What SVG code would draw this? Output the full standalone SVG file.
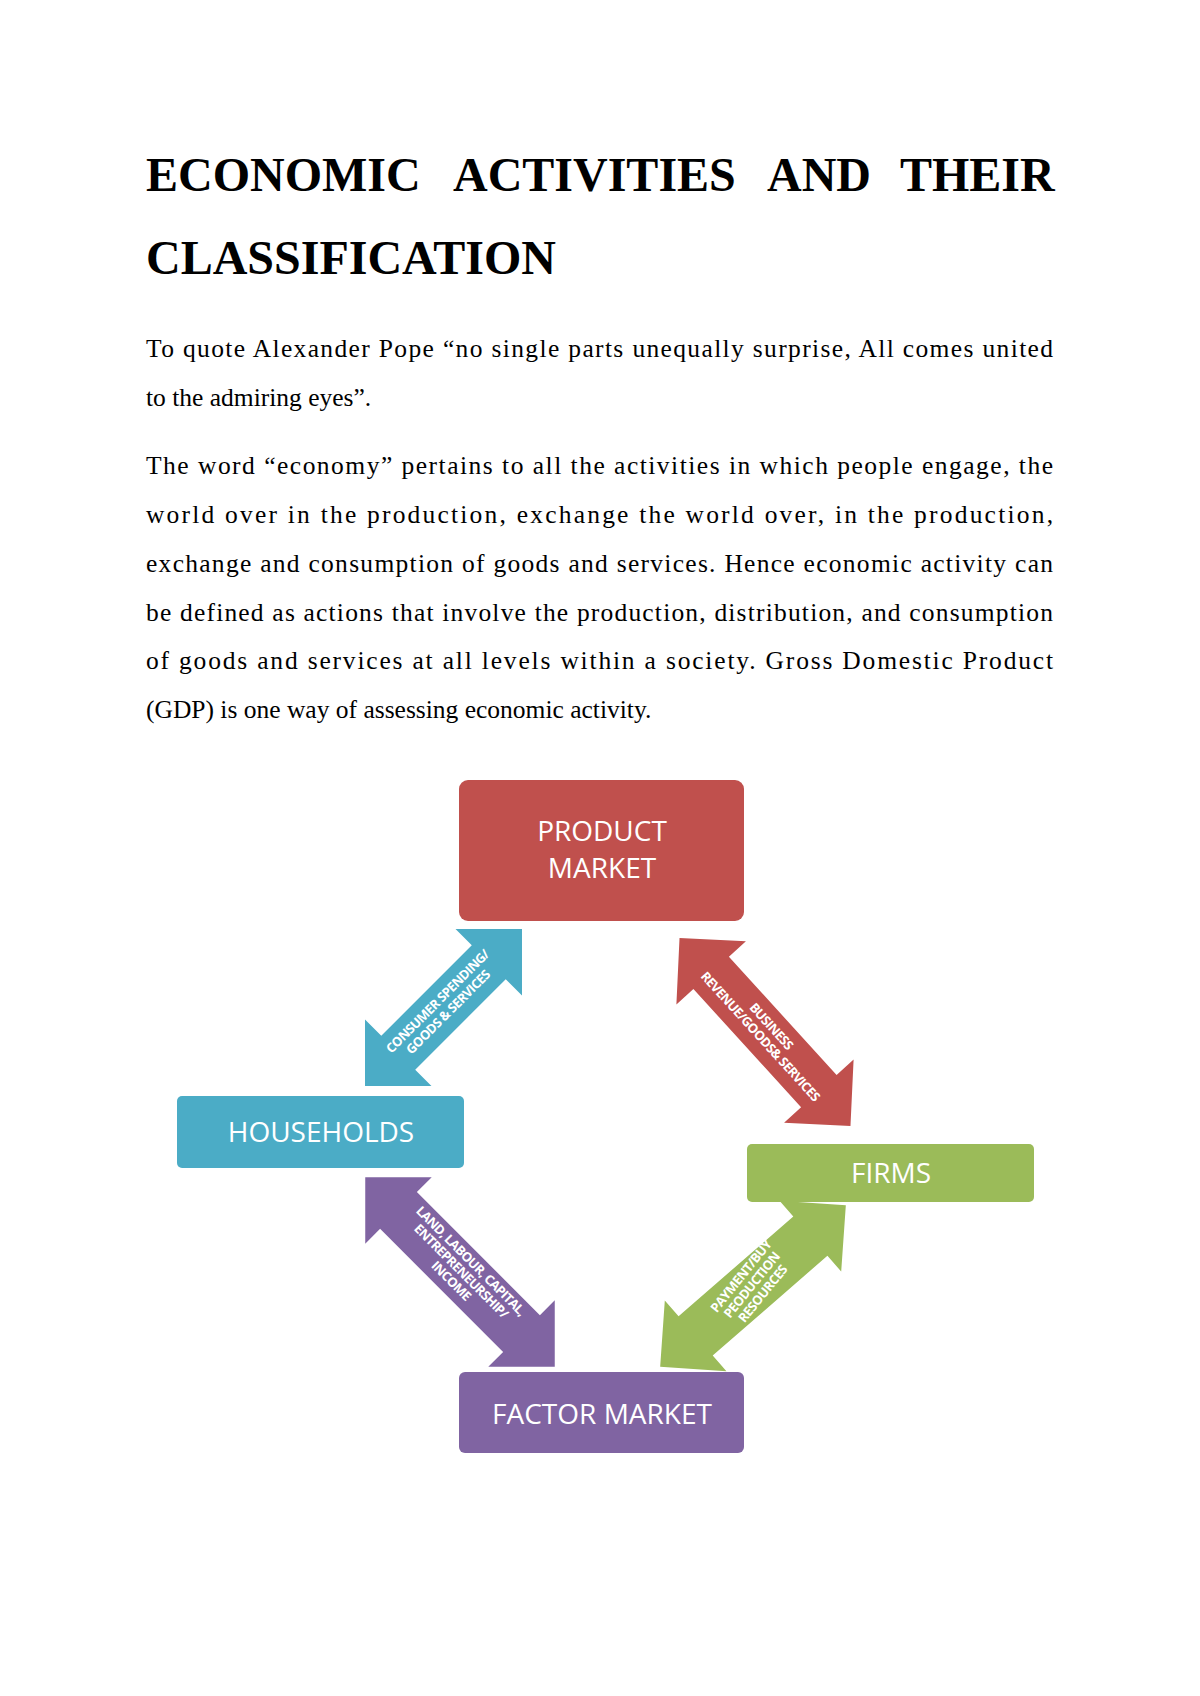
<svg xmlns="http://www.w3.org/2000/svg" width="1200" height="1696" viewBox="0 0 1200 1696">
<style>
.t{font-family:"Liberation Serif","Times New Roman",serif;font-weight:bold;font-size:48px;fill:#000}
.b{font-family:"Liberation Serif","Times New Roman",serif;font-size:25.5px;fill:#000}
.n{font-family:"Open Sans","Liberation Sans",sans-serif;font-size:28px;fill:#fff;text-anchor:middle}
.a{font-family:"Open Sans","Liberation Sans",sans-serif;font-weight:bold;font-size:13px;fill:#fff;text-anchor:middle;letter-spacing:-0.6px}
</style>
<rect width="1200" height="1696" fill="#fff"/>
<text class="t" y="191"><tspan x="146">ECONOMIC</tspan><tspan x="453">ACTIVITIES</tspan><tspan x="767">AND</tspan><tspan x="900">THEIR</tspan></text>
<text class="t" x="146" y="274">CLASSIFICATION</text>
<text class="b" x="146" y="357" textLength="907" lengthAdjust="spacing">To quote Alexander Pope “no single parts unequally surprise, All comes united</text>
<text class="b" x="146" y="406">to the admiring eyes”.</text>
<text class="b" x="146" y="474" textLength="907" lengthAdjust="spacing">The word “economy” pertains to all the activities in which people engage, the</text>
<text class="b" x="146" y="523" textLength="907" lengthAdjust="spacing">world over in the production, exchange the world over, in the production,</text>
<text class="b" x="146" y="572" textLength="907" lengthAdjust="spacing">exchange and consumption of goods and services. Hence economic activity can</text>
<text class="b" x="146" y="621" textLength="907" lengthAdjust="spacing">be defined as actions that involve the production, distribution, and consumption</text>
<text class="b" x="146" y="669" textLength="907" lengthAdjust="spacing">of goods and services at all levels within a society. Gross Domestic Product</text>
<text class="b" x="146" y="718">(GDP) is one way of assessing economic activity.</text>

<g id="connectors">
<g id="arrow-cyan" transform="translate(443.5,1007.5) rotate(-45)">
<path d="M-111,0 L-64,-47 L-64,-24 L64,-24 L64,-47 L111,0 L64,47 L64,24 L-64,24 L-64,47 Z" fill="#4BACC6"/>
<text class="a" y="-4">CONSUMER SPENDING/</text>
<text class="a" y="11">GOODS &amp; SERVICES</text>
</g>
<g id="arrow-red" transform="translate(765,1032) rotate(47.7)">
<path d="M-127,0 L-80,-47 L-80,-24 L80,-24 L80,-47 L127,0 L80,47 L80,24 L-80,24 L-80,47 Z" fill="#C0504D"/>
<text class="a" y="-4">BUSINESS</text>
<text class="a" y="11">REVENUE/GOODS&amp; SERVICES</text>
</g>
<g id="arrow-purple" transform="translate(460,1272) rotate(45)">
<path d="M-134,0 L-87,-47 L-87,-26 L87,-26 L87,-47 L134,0 L87,47 L87,26 L-87,26 L-87,47 Z" fill="#8064A2"/>
<text class="a" y="-11">LAND, LABOUR, CAPITAL,</text>
<text class="a" y="3">ENTREPRENEURSHIP/</text>
<text class="a" y="17">INCOME</text>
</g>
<g id="arrow-green" transform="translate(753,1286) rotate(-41)">
<path d="M-123,0 L-76,-47 L-76,-26 L76,-26 L76,-47 L123,0 L76,47 L76,26 L-76,26 L-76,47 Z" fill="#9BBB59"/>
<g transform="rotate(-10)">
<text class="a" y="-11">PAYMENT/BUY</text>
<text class="a" y="3">PEODUCTION</text>
<text class="a" y="17">RESOURCES</text>
</g>
</g>
</g>

<g id="product-market"><rect x="459" y="780" width="285" height="141" rx="9" fill="#C0504D"/><text class="n" x="602" y="841">PRODUCT</text><text class="n" x="602" y="878">MARKET</text></g>
<g id="households"><rect x="177" y="1096" width="287" height="72" rx="5" fill="#4BACC6"/><text class="n" x="321" y="1142">HOUSEHOLDS</text></g>
<g id="firms"><rect x="747" y="1144" width="287" height="58" rx="5" fill="#9BBB59"/><text class="n" x="891" y="1183">FIRMS</text></g>
<g id="factor-market"><rect x="459" y="1372" width="285" height="81" rx="6" fill="#8064A2"/><text class="n" x="602" y="1424">FACTOR MARKET</text></g>
</svg>
